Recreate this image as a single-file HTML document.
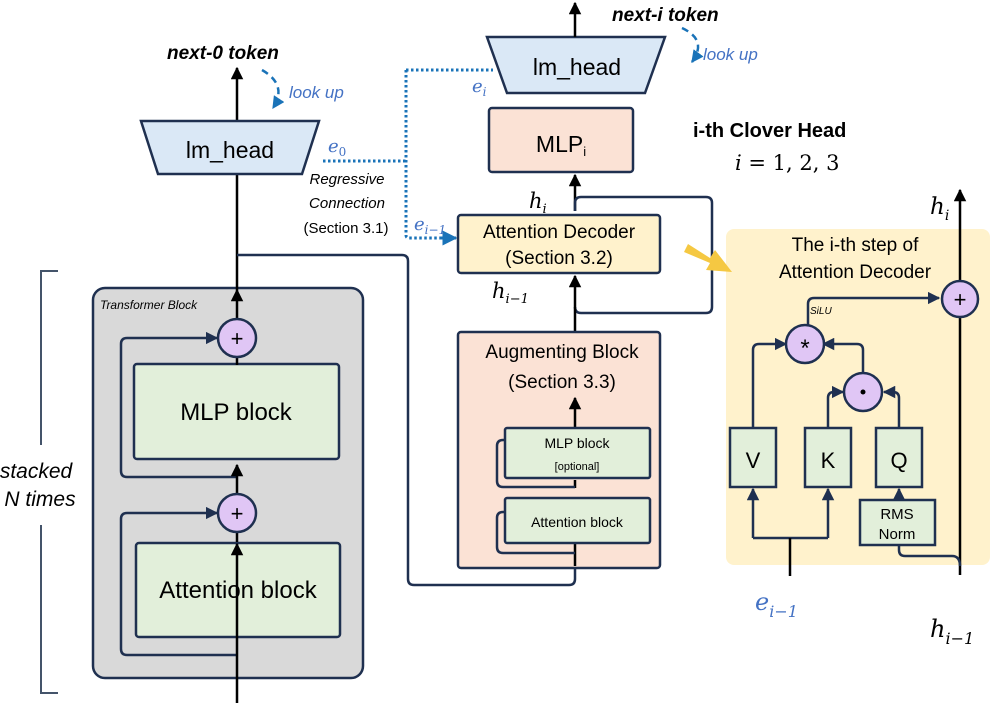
<!DOCTYPE html>
<html><head><meta charset="utf-8"><style>
body{margin:0;background:#fff}
text{font-family:"Liberation Sans","DejaVu Sans",sans-serif}
.m{font-family:"DejaVu Serif","Liberation Serif",serif;font-style:italic}
</style></head><body>
<svg width="995" height="703" viewBox="0 0 995 703" xmlns="http://www.w3.org/2000/svg">
<defs>
<marker id="a" viewBox="0 0 10 10" refX="9" refY="5" markerWidth="5" markerHeight="5" orient="auto-start-reverse"><path d="M0,0L10,5L0,10z" fill="#000"/></marker>
<marker id="n" viewBox="0 0 10 10" refX="9" refY="5" markerWidth="5" markerHeight="5" orient="auto-start-reverse"><path d="M0,0L10,5L0,10z" fill="#1f3050"/></marker>
<marker id="b" viewBox="0 0 10 10" refX="9" refY="5" markerWidth="5" markerHeight="5" orient="auto-start-reverse"><path d="M0,0L10,5L0,10z" fill="#1a73b8"/></marker>
</defs>
<path d="M58,271H41V445M41,525V693H58" fill="none" stroke="#44546a" stroke-width="2"/>
<text x="36" y="478" font-size="21" font-style="italic" text-anchor="middle">stacked</text>
<text x="40" y="506" font-size="21" font-style="italic" text-anchor="middle">N times</text>
<rect x="93" y="288" width="270" height="390" rx="12" fill="#d9d9d9" stroke="#1f3050" stroke-width="2.5"/>
<text x="100" y="309" font-size="12" font-style="italic">Transformer Block</text>
<rect x="134" y="364" width="205" height="95" rx="3" fill="#e2efda" stroke="#1f3050" stroke-width="2.5"/>
<text x="236" y="420" font-size="24" text-anchor="middle">MLP block</text>
<rect x="136" y="543" width="204" height="94" rx="3" fill="#e2efda" stroke="#1f3050" stroke-width="2.5"/>
<text x="238" y="598" font-size="24" text-anchor="middle">Attention block</text>
<path d="M237,477H127Q121,477 121,471V344Q121,338 127,338H217" fill="none" stroke="#1f3050" stroke-width="2.5" marker-end="url(#n)"/>
<path d="M237,655H127Q121,655 121,649V519Q121,513 127,513H217" fill="none" stroke="#1f3050" stroke-width="2.5" marker-end="url(#n)"/>
<line x1="237" y1="703" x2="237" y2="544" stroke="#000" stroke-width="2.5" marker-end="url(#a)"/>
<line x1="237" y1="532" x2="237" y2="542" stroke="#000" stroke-width="2.5"/>
<line x1="237" y1="494" x2="237" y2="465" stroke="#000" stroke-width="2.5" marker-end="url(#a)"/>
<line x1="237" y1="357" x2="237" y2="365" stroke="#000" stroke-width="2.5"/>
<line x1="237" y1="319" x2="237" y2="290" stroke="#000" stroke-width="2.5" marker-end="url(#a)"/>
<line x1="237" y1="290" x2="237" y2="173" stroke="#000" stroke-width="2.5"/>
<line x1="237" y1="120" x2="237" y2="68" stroke="#000" stroke-width="2.5" marker-end="url(#a)"/>
<circle cx="237" cy="338" r="19" fill="#e0c6f5" stroke="#1f3050" stroke-width="2.5"/>
<text x="237" y="346" font-size="22" text-anchor="middle">+</text>
<circle cx="237" cy="513" r="19" fill="#e0c6f5" stroke="#1f3050" stroke-width="2.5"/>
<text x="237" y="521" font-size="22" text-anchor="middle">+</text>
<polygon points="141,121 319,121 302,174 158,174" fill="#dae8f6" stroke="#1f3050" stroke-width="2.5"/>
<text x="230" y="158" font-size="23" text-anchor="middle">lm_head</text>
<text x="167" y="59" font-size="19" font-weight="bold" font-style="italic">next-0 token</text>
<path d="M262,70Q288,85 273,108" fill="none" stroke="#1a73b8" stroke-width="2.5" stroke-dasharray="7,5" marker-end="url(#b)"/>
<text x="289" y="98" font-size="17" font-style="italic" fill="#4472c4">look up</text>
<path d="M323,161H406M406,70V235Q406,238 409,238H452" fill="none" stroke="#1a73b8" stroke-width="3" stroke-dasharray="2.5,2.5"/>
<path d="M406,70H493" fill="none" stroke="#1a73b8" stroke-width="3" stroke-dasharray="2.5,2.5"/>
<path d="M440,238H456" stroke="#1a73b8" stroke-width="3" marker-end="url(#b)"/>
<text x="328" y="152" font-size="18" class="m" fill="#4472c4">e<tspan font-size="12" dy="4" font-style="normal">0</tspan></text>
<text x="472" y="92" font-size="18" class="m" fill="#4472c4">e<tspan font-size="12" dy="4">i</tspan></text>
<text x="414" y="230" font-size="18" class="m" fill="#4472c4">e<tspan font-size="12" dy="4">i−1</tspan></text>
<text x="347" y="184" font-size="15" font-style="italic" text-anchor="middle">Regressive</text>
<text x="347" y="208" font-size="15" font-style="italic" text-anchor="middle">Connection</text>
<text x="346" y="233" font-size="15" text-anchor="middle">(Section 3.1)</text>
<path d="M237,255H402Q408,255 408,261V579Q408,585 414,585H569Q575,585 575,579V566" fill="none" stroke="#1f3050" stroke-width="2.5"/>
<polygon points="487,37 665,37 645,93 507,93" fill="#dae8f6" stroke="#1f3050" stroke-width="2.5"/>
<text x="577" y="75" font-size="23" text-anchor="middle">lm_head</text>
<line x1="575" y1="37" x2="575" y2="3" stroke="#000" stroke-width="2.5" marker-end="url(#a)"/>
<text x="612" y="21" font-size="19" font-weight="bold" font-style="italic">next-i token</text>
<path d="M682,28Q708,40 692,62" fill="none" stroke="#1a73b8" stroke-width="2.5" stroke-dasharray="7,5" marker-end="url(#b)"/>
<text x="703" y="60" font-size="17" font-style="italic" fill="#4472c4">look up</text>
<rect x="489" y="108" width="144" height="64" rx="3" fill="#fbe2d5" stroke="#1f3050" stroke-width="2.5"/>
<text x="561" y="152" font-size="23" text-anchor="middle">MLP<tspan font-size="13" dy="4">i</tspan></text>
<line x1="575" y1="211" x2="575" y2="175" stroke="#000" stroke-width="2.5" marker-end="url(#a)"/>
<text x="529" y="208" font-size="21" class="m">h<tspan font-size="13" dy="5">i</tspan></text>
<path d="M575,211V203Q575,197 581,197H706Q712,197 712,203V307Q712,313 706,313H581Q575,313 575,307" fill="none" stroke="#1f3050" stroke-width="2.5"/>
<rect x="458" y="215" width="202" height="58" rx="3" fill="#fff2cc" stroke="#1f3050" stroke-width="2.5"/>
<text x="559" y="238" font-size="19" text-anchor="middle">Attention Decoder</text>
<text x="559" y="264" font-size="19" text-anchor="middle">(Section 3.2)</text>
<line x1="575" y1="332" x2="575" y2="276" stroke="#000" stroke-width="2.5" marker-end="url(#a)"/>
<text x="492" y="298" font-size="21" class="m">h<tspan font-size="13" dy="5">i−1</tspan></text>
<rect x="458" y="332" width="202" height="236" rx="3" fill="#fbe2d5" stroke="#1f3050" stroke-width="2.5"/>
<text x="562" y="358" font-size="19" text-anchor="middle">Augmenting Block</text>
<text x="562" y="388" font-size="19" text-anchor="middle">(Section 3.3)</text>
<path d="M575,566V502" stroke="#000" stroke-width="2.5"/>
<line x1="575" y1="428" x2="575" y2="398" stroke="#000" stroke-width="2.5" marker-end="url(#a)"/>
<path d="M575,488V480" stroke="#000" stroke-width="2.5"/>
<path d="M575,487H503Q497,487 497,481V446Q497,440 503,440H573" fill="none" stroke="#1f3050" stroke-width="2.5" marker-end="url(#n)"/>
<path d="M575,553H503Q497,553 497,547V518Q497,512 503,512H573" fill="none" stroke="#1f3050" stroke-width="2.5" marker-end="url(#n)"/>
<rect x="505" y="428" width="145" height="50" rx="2" fill="#e2efda" stroke="#1f3050" stroke-width="2.5"/>
<text x="577" y="448" font-size="14" text-anchor="middle">MLP block</text>
<text x="577" y="470" font-size="11" text-anchor="middle">[optional]</text>
<rect x="505" y="498" width="145" height="45" rx="2" fill="#e2efda" stroke="#1f3050" stroke-width="2.5"/>
<text x="577" y="527" font-size="14" text-anchor="middle">Attention block</text>
<text x="693" y="137" font-size="20" font-weight="bold">i-th Clover Head</text>
<text x="735" y="170" font-size="21" class="m">i <tspan font-style="normal">= 1, 2, 3</tspan></text>
<rect x="726" y="229" width="264" height="336" rx="8" fill="#fff2cc"/>
<path d="M688,244L710,258L715,250L732,272L706,270L710,263L684,252z" fill="#f5c842"/>
<text x="855" y="251" font-size="19" text-anchor="middle">The i-th step of</text>
<text x="855" y="278" font-size="19" text-anchor="middle">Attention Decoder</text>
<line x1="960" y1="575" x2="960" y2="190" stroke="#000" stroke-width="2.5" marker-end="url(#a)"/>
<text x="930" y="214" font-size="23" class="m">h<tspan font-size="14" dy="6">i</tspan></text>
<path d="M808,343V304Q808,298 814,298H939" fill="none" stroke="#1f3050" stroke-width="2.5" marker-end="url(#n)"/>
<text x="810" y="314" font-size="10" font-style="italic">SiLU</text>
<circle cx="960" cy="299" r="18" fill="#e0c6f5" stroke="#1f3050" stroke-width="2.5"/>
<text x="960" y="307" font-size="22" text-anchor="middle">+</text>
<path d="M753,428V350Q753,344 759,344H786" fill="none" stroke="#1f3050" stroke-width="2.5" marker-end="url(#n)"/>
<path d="M863,373V350Q863,344 857,344H823" fill="none" stroke="#1f3050" stroke-width="2.5" marker-end="url(#n)"/>
<path d="M828,428V398Q828,392 834,392H843" fill="none" stroke="#1f3050" stroke-width="2.5" marker-end="url(#n)"/>
<path d="M899,428V398Q899,392 893,392H884" fill="none" stroke="#1f3050" stroke-width="2.5" marker-end="url(#n)"/>
<circle cx="805" cy="344" r="19" fill="#e0c6f5" stroke="#1f3050" stroke-width="2.5"/>
<text x="805" y="356" font-size="24" text-anchor="middle">*</text>
<circle cx="863" cy="392" r="19" fill="#e0c6f5" stroke="#1f3050" stroke-width="2.5"/>
<circle cx="863" cy="392" r="2.5" fill="#000"/>
<rect x="730" y="428" width="46" height="59" fill="#e2efda" stroke="#1f3050" stroke-width="2.5"/>
<text x="753" y="468" font-size="22" text-anchor="middle">V</text>
<rect x="805" y="428" width="46" height="59" fill="#e2efda" stroke="#1f3050" stroke-width="2.5"/>
<text x="828" y="468" font-size="22" text-anchor="middle">K</text>
<rect x="876" y="428" width="46" height="59" fill="#e2efda" stroke="#1f3050" stroke-width="2.5"/>
<text x="899" y="468" font-size="22" text-anchor="middle">Q</text>
<rect x="860" y="500" width="75" height="45" fill="#e2efda" stroke="#1f3050" stroke-width="2.5"/>
<text x="897" y="519" font-size="15" text-anchor="middle">RMS</text>
<text x="897" y="539" font-size="15" text-anchor="middle">Norm</text>
<line x1="899" y1="500" x2="899" y2="489" stroke="#1f3050" stroke-width="2.5" marker-end="url(#n)"/>
<path d="M753,538H828" fill="none" stroke="#1f3050" stroke-width="2.5"/>
<path d="M790,576V538" stroke="#000" stroke-width="2.5"/>
<line x1="753" y1="538" x2="753" y2="489" stroke="#1f3050" stroke-width="2.5" marker-end="url(#n)"/>
<line x1="828" y1="538" x2="828" y2="489" stroke="#1f3050" stroke-width="2.5" marker-end="url(#n)"/>
<path d="M899,545V550Q899,556 905,556H952Q960,556 960,566" fill="none" stroke="#1f3050" stroke-width="2.5"/>
<text x="755" y="610" font-size="24" class="m" fill="#4472c4">e<tspan font-size="16" dy="7">i−1</tspan></text>
<text x="930" y="637" font-size="24" class="m">h<tspan font-size="16" dy="7">i−1</tspan></text>
</svg>
</body></html>
